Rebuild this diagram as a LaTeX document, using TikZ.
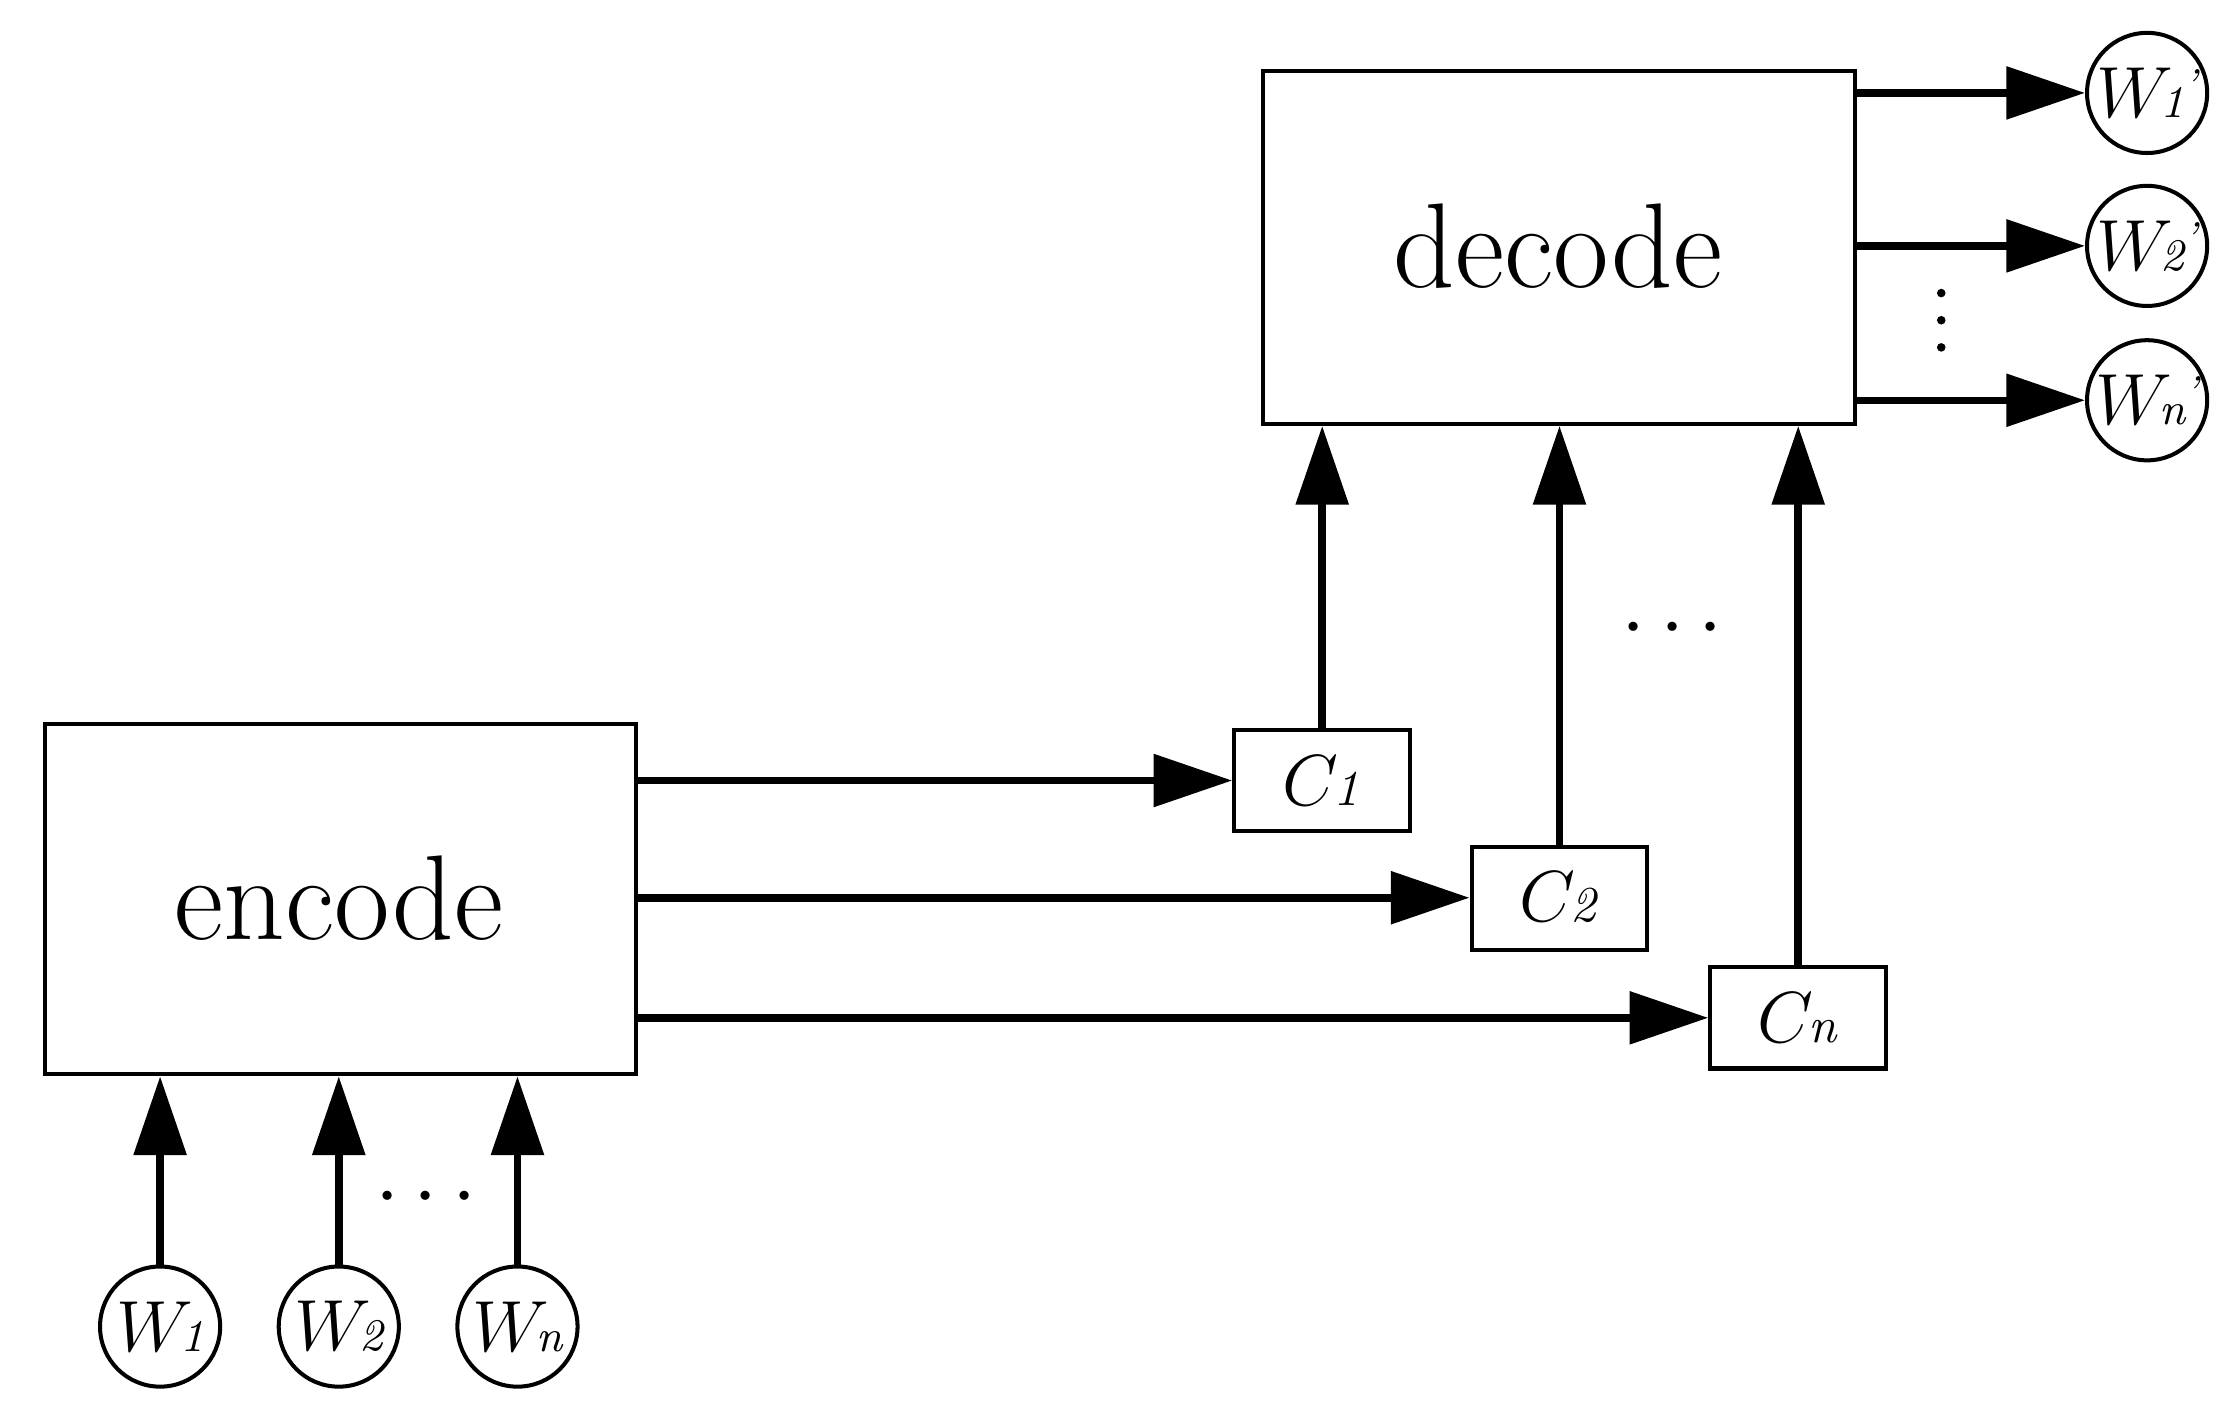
\documentclass[tikz,border=0pt]{standalone}
\usetikzlibrary{arrows.meta}
\begin{document}
\begin{tikzpicture}[x=0.01cm,y=-0.01cm,
  box/.style={draw,line width=0.8pt,inner sep=0pt,anchor=north west},
  circ/.style={draw,circle,line width=0.8pt,minimum size=0.84cm,inner sep=0pt,font=\fontsize{14}{15}\selectfont\itshape},
  cl/.style={font=\fontsize{15}{16}\selectfont\itshape},
  arr/.style={line width=1.5pt,-{Triangle[length=0.55cm,width=0.36cm]}}]
\useasboundingbox (0,0) rectangle (1560,993);
\node[box,minimum width=4.13cm,minimum height=2.45cm] (enc) at (30,505) {};
\node[font=\fontsize{24}{26}\selectfont] at (237,628) {encode};
\node[box,minimum width=4.14cm,minimum height=2.47cm] (dec) at (882,48) {};
\node[font=\fontsize{24}{26}\selectfont] at (1090,172) {decode};
\node[box,minimum width=1.23cm,minimum height=0.71cm] (c1) at (862,509) {};
\node[cl] at (924,546) {$C$\kern-1pt{\fontsize{10}{10}\selectfont1}};
\node[box,minimum width=1.23cm,minimum height=0.72cm] (c2) at (1028,591) {};
\node[cl] at (1090,628) {$C$\kern-1pt{\fontsize{10}{10}\selectfont2}};
\node[box,minimum width=1.23cm,minimum height=0.71cm] (cn) at (1195,675) {};
\node[cl] at (1257,712) {$C$\kern-1pt{\fontsize{10}{10}\selectfont n}};
\coordinate (e1) at (445,546); \coordinate (e2) at (445,628); \coordinate (e3) at (445,712);
\draw[arr] (e1) -- (c1.west|-e1);
\draw[arr] (e2) -- (c2.west|-e2);
\draw[arr] (e3) -- (cn.west|-e3);
\draw[arr] (c1.north) -- (c1.north|-dec.south);
\draw[arr] (c2.north) -- (c2.north|-dec.south);
\draw[arr] (cn.north) -- (cn.north|-dec.south);
\foreach \n/\x/\l in {w1/112/1,w2/237/2,wn/362/n}{
  \node[circ] (\n) at (\x,928) {$W$\kern-2.5pt{\fontsize{9}{9}\selectfont\l}};
  \draw[arr] (\n.north) -- (\n.north|-enc.south);
}
\foreach \n/\y/\l in {o1/65/1,o2/172/2,on/280/n}{
  \node[circ] (\n) at (1502,\y) {$W$\kern-2.5pt{\fontsize{9}{9}\selectfont\l}\raisebox{4pt}{\fontsize{8}{8}\selectfont\textquoteright}};
  \coordinate (s\n) at (1298,\y);
  \draw[arr] (s\n) -- (\n.west);
}
\node[font=\fontsize{16}{16}\selectfont] at (1170,440) {$\cdots$};
\node[font=\fontsize{16}{16}\selectfont] at (298,838) {$\cdots$};
\foreach \y in {205,224,243} \fill (1358,\y) circle (3);
\end{tikzpicture}
\end{document}
